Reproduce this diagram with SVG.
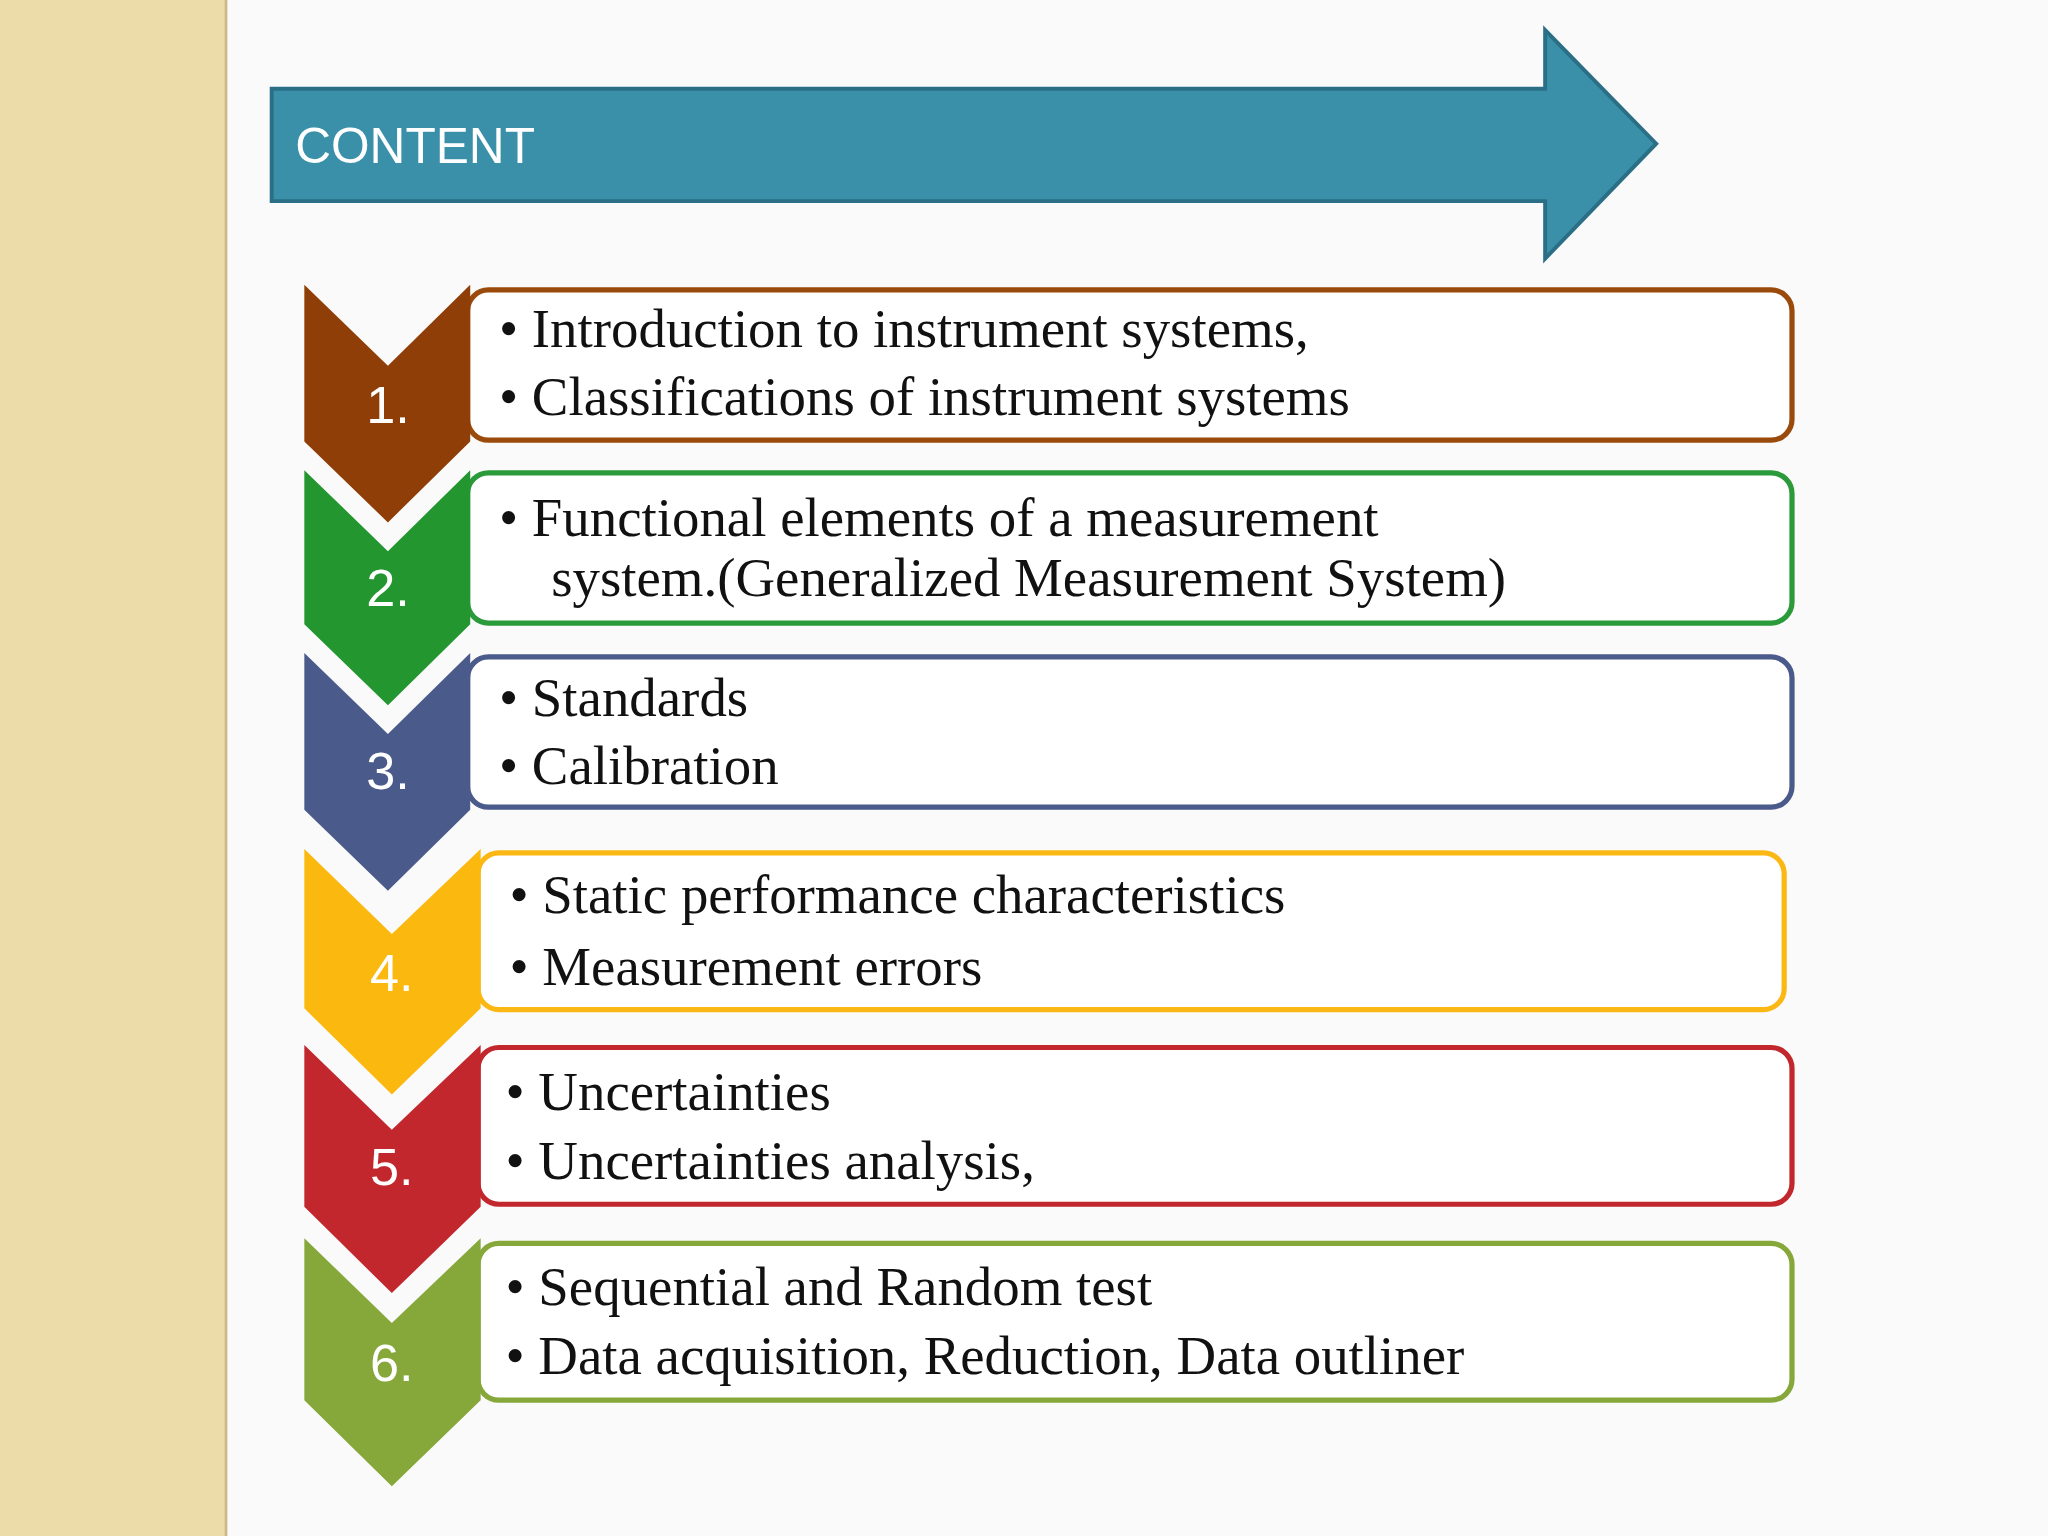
<svg xmlns="http://www.w3.org/2000/svg" width="2048" height="1536" viewBox="0 0 2048 1536">
<style>
.t{font-family:"Liberation Serif",serif;font-size:42px;fill:#111}
.n{font-family:"Liberation Sans",sans-serif;font-size:40px;fill:#fff}
.b{fill:#fff;stroke-width:4}
</style>
<rect width="2048" height="1536" fill="#fafafa"/>
<g transform="scale(1.30612)">
<rect x="0" y="0" width="174" height="1176" fill="#ecdcaa"/>
<line x1="173" y1="0" x2="173" y2="1176" stroke="#c9b98a" stroke-width="2"/>
<g id="header">
<path d="M208,68 H1183 V23 L1268,110 L1183,198 V154 H208 Z" fill="#3a90a8" stroke="#2a6f85" stroke-width="3"/>
<text x="226" y="125" font-family="Liberation Sans,sans-serif" font-size="38" fill="#fff">CONTENT</text>
</g>
<g id="box1"><rect class="b" x="358" y="222" width="1014" height="115" rx="16" stroke="#9a4a0a"/>
<text class="t" x="382" y="266">•  Introduction to instrument systems,</text>
<text class="t" x="382" y="318">•  Classifications of instrument systems</text></g>
<g id="box2"><rect class="b" x="358" y="362" width="1014" height="115" rx="16" stroke="#2a9a3a"/>
<text class="t" x="382" y="410">•  Functional elements of a measurement</text>
<text class="t" x="422" y="456">system.(Generalized Measurement System)</text></g>
<g id="box3"><rect class="b" x="358" y="503" width="1014" height="115" rx="16" stroke="#4a5a8a"/>
<text class="t" x="382" y="548">•  Standards</text>
<text class="t" x="382" y="600">•  Calibration</text></g>
<g id="box4"><rect class="b" x="366" y="653" width="1000" height="120" rx="16" stroke="#fbb814"/>
<text class="t" x="390" y="699">•  Static performance characteristics</text>
<text class="t" x="390" y="754">•  Measurement errors</text></g>
<g id="box5"><rect class="b" x="366" y="802" width="1006" height="120" rx="16" stroke="#c1272d"/>
<text class="t" x="387" y="850">•  Uncertainties</text>
<text class="t" x="387" y="903">•  Uncertainties analysis,</text></g>
<g id="box6"><rect class="b" x="366" y="952" width="1006" height="120" rx="16" stroke="#86a83a"/>
<text class="t" x="387" y="999">•  Sequential and Random test</text>
<text class="t" x="387" y="1052">•  Data acquisition, Reduction, Data outliner</text></g>
<g id="c1"><path d="M233,218 L297,280 L360,218 V338 L297,400 L233,338 Z" fill="#8f3e08"/><text class="n" x="297" y="324" text-anchor="middle">1.</text></g>
<g id="c2"><path d="M233,360 L297,422 L360,360 V478 L297,540 L233,478 Z" fill="#23962f"/><text class="n" x="297" y="464" text-anchor="middle">2.</text></g>
<g id="c3"><path d="M233,500 L297,562 L360,500 V620 L297,682 L233,620 Z" fill="#4a5a8a"/><text class="n" x="297" y="604" text-anchor="middle">3.</text></g>
<g id="c4"><path d="M233,650 L300,715 L368,650 V772 L300,838 L233,772 Z" fill="#fbb80f"/><text class="n" x="300" y="759" text-anchor="middle">4.</text></g>
<g id="c5"><path d="M233,800 L300,865 L368,800 V924 L300,990 L233,924 Z" fill="#c1272d"/><text class="n" x="300" y="907" text-anchor="middle">5.</text></g>
<g id="c6"><path d="M233,948 L300,1013 L368,948 V1072 L300,1138 L233,1072 Z" fill="#86a83a"/><text class="n" x="300" y="1057" text-anchor="middle">6.</text></g>
</g>
</svg>
